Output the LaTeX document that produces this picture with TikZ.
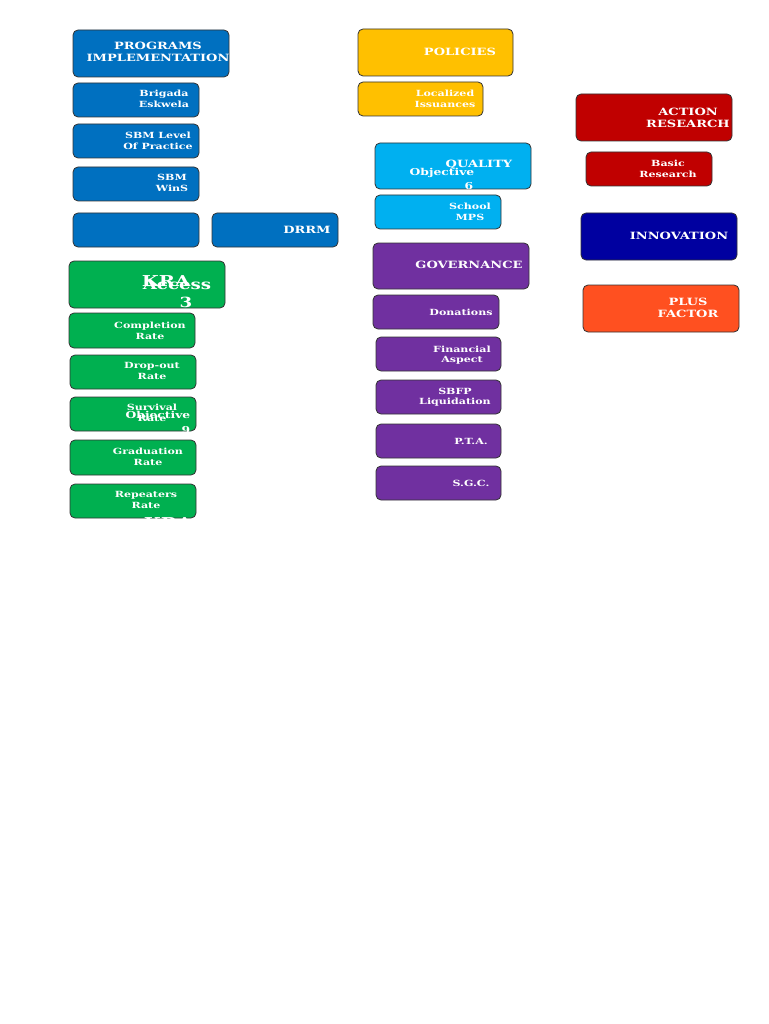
\documentclass[tikz,border=0pt]{standalone}
\usepackage{fontspec}
\setmainfont{DejaVu Serif}[FakeStretch=1.3]
\begin{document}
\begin{tikzpicture}[x=1pt,y=-1pt,
 bx/.style={draw=black!80,line width=0.8pt,rounded corners=5pt},
 tx/.style={text=white,font=\bfseries\fontsize{8.5}{10.5}\selectfont,align=center,inner sep=0pt},
 tb/.style={text=white,font=\bfseries\fontsize{10}{11.5}\selectfont,align=center,inner sep=0pt}]
\useasboundingbox (0,0) rectangle (768,1024);
\definecolor{cb}{HTML}{0070C0}\definecolor{cg}{HTML}{00B050}\definecolor{cy}{HTML}{FFC000}
\definecolor{cc}{HTML}{00B0F0}\definecolor{cp}{HTML}{7030A0}\definecolor{cr}{HTML}{C00000}
\definecolor{cn}{HTML}{0000A0}\definecolor{co}{HTML}{FF5020}
\newcommand\bxx[6]{\filldraw[bx,fill=#1] (#2,#3) rectangle (#4,#5) node[pos=0.5] (#6) {};}
% blue column
\bxx{cb}{73}{30}{229}{77}{pi}\node[tb] at (158,52) {PROGRAMS\\IMPLEMENTATION};
\bxx{cb}{73}{83}{199}{117}{be}\node[tx] at (164,99) {Brigada\\Eskwela};
\bxx{cb}{73}{124}{199}{158}{sl}\node[tx] at (158,141) {SBM Level\\Of Practice};
\bxx{cb}{73}{167}{199}{201}{sw}\node[tx] at (172,183) {SBM\\WinS};
\bxx{cb}{73}{213}{199}{247}{bl}
\bxx{cb}{212}{213}{338}{247}{dr}\node[tb] at (307,230) {DRRM};
% green column
\bxx{cg}{69}{261}{225}{308}{kra}
\node[text=white,font=\bfseries\fontsize{15}{15}\selectfont,inner sep=0] at (166,281) {KRA};
\node[text=white,font=\bfseries\fontsize{14}{14}\selectfont,inner sep=0] at (177,284) {Access};
\node[text=white,font=\bfseries\fontsize{14}{14}\selectfont,inner sep=0] at (186,302) {3};
\bxx{cg}{69}{313}{195}{348}{cr1}\node[tx] at (150,331) {Completion\\Rate};
\bxx{cg}{70}{355}{196}{389}{dor}\node[tx] at (152,371) {Drop-out\\Rate};
\bxx{cg}{70}{397}{196}{431}{sr}\node[tx] at (152,413) {Survival\\Rate};
\node[text=white,font=\bfseries\fontsize{9.5}{10}\selectfont,inner sep=0] at (158,416) {Objective};
\begin{scope}\clip (150,423) rectangle (200,433);\node[text=white,font=\bfseries\fontsize{9.5}{10}\selectfont,inner sep=0] at (186,430) {9};\end{scope}
\bxx{cg}{70}{440}{196}{475}{gr}\node[tx] at (148,457) {Graduation\\Rate};
\bxx{cg}{70}{484}{196}{518}{rr}\node[tx] at (146,500) {Repeaters\\Rate};
\begin{scope}\clip (130,510) rectangle (200,523);\node[text=white,font=\bfseries\fontsize{15}{15}\selectfont,inner sep=0] at (168,523) {KRA};\end{scope}
% yellow
\bxx{cy}{358}{29}{513}{76}{po}\node[tb] at (460,52) {POLICIES};
\bxx{cy}{358}{82}{483}{116}{li}\node[tx] at (445,99) {Localized\\Issuances};
% cyan
\bxx{cc}{375}{143}{531}{189}{qu}\node[tb] at (479,165) {QUALITY};
\node[text=white,font=\bfseries\fontsize{9.5}{10}\selectfont,inner sep=0] at (442,173) {Objective};
\node[text=white,font=\bfseries\fontsize{9.5}{10}\selectfont,inner sep=0] at (469,186) {6};
\bxx{cc}{375}{195}{501}{229}{mp}\node[tx] at (470,212) {School\\MPS};
% purple
\bxx{cp}{373}{243}{529}{289}{gv}\node[tb] at (469,265) {GOVERNANCE};
\bxx{cp}{373}{295}{499}{329}{do}\node[tx] at (461,312) {Donations};
\bxx{cp}{376}{337}{501}{371}{fa}\node[tx] at (462,355) {Financial\\Aspect};
\bxx{cp}{376}{380}{501}{414}{sb}\node[tx] at (455,397) {SBFP\\Liquidation};
\bxx{cp}{376}{424}{501}{458}{pt}\node[tx] at (471,441) {P.T.A.};
\bxx{cp}{376}{466}{501}{500}{sg}\node[tx] at (471,483) {S.G.C.};
% right column
\bxx{cr}{576}{94}{732}{141}{ar}\node[tb] at (688,118) {ACTION\\RESEARCH};
\bxx{cr}{586}{152}{712}{186}{br}\node[tx] at (668,169) {Basic\\Research};
\bxx{cn}{581}{213}{737}{260}{in}\node[tb] at (679,236) {INNOVATION};
\bxx{co}{583}{285}{739}{332}{pf}\node[tb] at (688,308) {PLUS\\FACTOR};
\end{tikzpicture}
\end{document}
